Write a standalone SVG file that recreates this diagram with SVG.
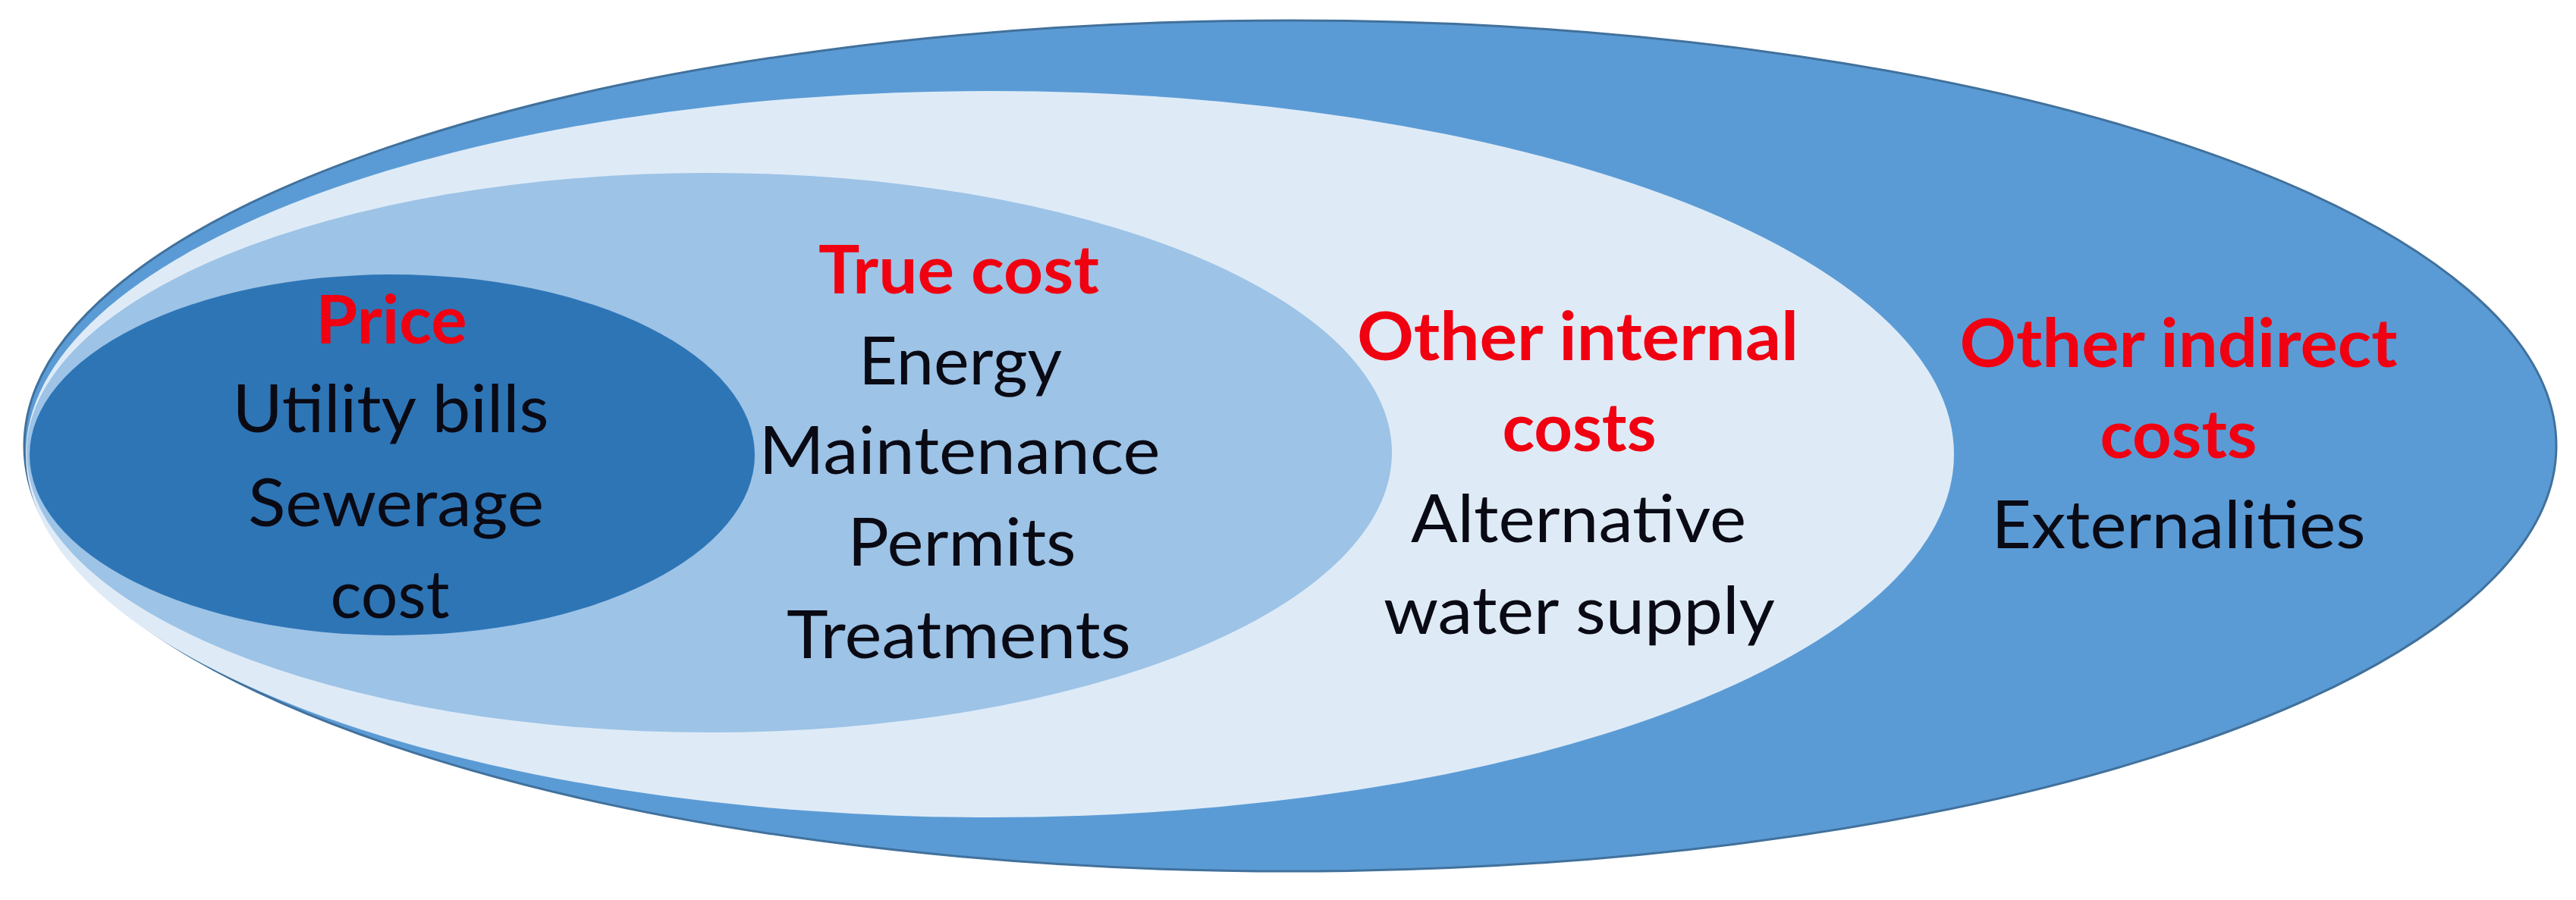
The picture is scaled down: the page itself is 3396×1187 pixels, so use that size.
<svg xmlns="http://www.w3.org/2000/svg" width="3396" height="1187" viewBox="0 0 3396 1187">
<style>
.t{font-family:Lato,"Open Sans","Liberation Sans",sans-serif;font-size:88px;text-anchor:middle;fill:#0a0a14}
.h{font-weight:bold;fill:#f00010}
</style>
<rect width="3396" height="1187" fill="#ffffff"/>
<g id="outer">
<ellipse cx="1701" cy="588" rx="1669" ry="561" fill="#5b9bd5" stroke="#41719c" stroke-width="3"/>
</g>
<g id="internal">
<ellipse cx="1305" cy="599" rx="1271" ry="479" fill="#deebf7"/>
</g>
<g id="truecost">
<ellipse cx="935" cy="597" rx="900" ry="369" fill="#9dc3e6"/>
</g>
<g id="price">
<ellipse cx="517" cy="600" rx="478" ry="238" fill="#2e75b6"/>
</g>
<g id="connectors"/>
<g id="labels-price">
<text class="t h" x="516" y="453" textLength="199" lengthAdjust="spacingAndGlyphs">Price</text>
<text class="t" x="515" y="570" textLength="417" lengthAdjust="spacingAndGlyphs">Utility bills</text>
<text class="t" x="522" y="694" textLength="390" lengthAdjust="spacingAndGlyphs">Sewerage</text>
<text class="t" x="514" y="815" textLength="157" lengthAdjust="spacingAndGlyphs">cost</text>
</g>
<g id="labels-truecost">
<text class="t h" x="1264" y="387" textLength="370" lengthAdjust="spacingAndGlyphs">True cost</text>
<text class="t" x="1266" y="507" textLength="268" lengthAdjust="spacingAndGlyphs">Energy</text>
<text class="t" x="1265" y="625" textLength="529" lengthAdjust="spacingAndGlyphs">Maintenance</text>
<text class="t" x="1268" y="746" textLength="301" lengthAdjust="spacingAndGlyphs">Permits</text>
<text class="t" x="1264" y="868" textLength="454" lengthAdjust="spacingAndGlyphs">Treatments</text>
</g>
<g id="labels-internal">
<text class="t h" x="2080" y="475" textLength="582" lengthAdjust="spacingAndGlyphs">Other internal</text>
<text class="t h" x="2082" y="595" textLength="203" lengthAdjust="spacingAndGlyphs">costs</text>
<text class="t" x="2081" y="715" textLength="442" lengthAdjust="spacingAndGlyphs">Alternative</text>
<text class="t" x="2082" y="836" textLength="516" lengthAdjust="spacingAndGlyphs">water supply</text>
</g>
<g id="labels-indirect">
<text class="t h" x="2872" y="484" textLength="577" lengthAdjust="spacingAndGlyphs">Other indirect</text>
<text class="t h" x="2872" y="604" textLength="207" lengthAdjust="spacingAndGlyphs">costs</text>
<text class="t" x="2872" y="723" textLength="493" lengthAdjust="spacingAndGlyphs">Externalities</text>
</g>
</svg>
